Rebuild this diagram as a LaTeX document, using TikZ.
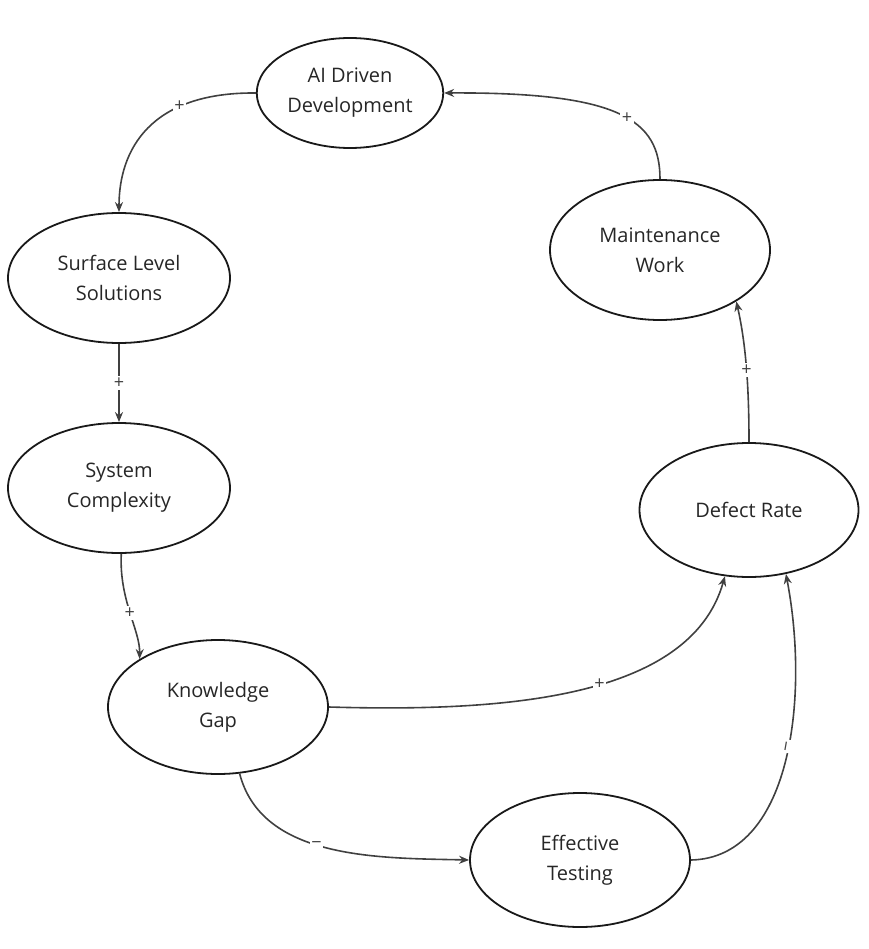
\documentclass[tikz,border=0pt]{standalone}
\usepackage{fontspec}
\setmainfont{Open Sans}
\usetikzlibrary{shapes.geometric,arrows.meta}
\begin{document}
\begin{tikzpicture}[x=1pt,y=-1pt,
 el/.style={ellipse,draw=black!90,line width=1.8pt,minimum width=#1,align=center,font=\fontsize{20}{30}\selectfont,text=black!85},
 ed/.style={draw=black!75,line width=1.6pt,-{Stealth[length=10pt,width=8pt]}},
 lb/.style={fill=white,inner sep=1.5pt,font=\fontsize{18}{18}\selectfont,text=black!75}]
\useasboundingbox (0,0) rectangle (868,949);
\node[el=186pt,minimum height=110pt] (ai) at (350,93) {AI Driven\\Development};
\node[el=220pt,minimum height=140pt] (mw) at (660,250) {Maintenance\\Work};
\node[el=222pt,minimum height=130pt] (sl) at (119,278) {Surface Level\\Solutions};
\node[el=222pt,minimum height=130pt] (sc) at (119,488) {System\\Complexity};
\node[el=219pt,minimum height=134pt] (dr) at (749,510) {Defect Rate};
\node[el=220pt,minimum height=134pt] (kg) at (218,707) {Knowledge\\Gap};
\node[el=220pt,minimum height=134pt] (et) at (580,860) {Effective\\Testing};
\draw[ed] (ai.west) .. controls (150,92) and (119,150) .. node[lb,pos=0.3]{+} (sl.north);
\draw[ed] (sl.south) -- node[lb]{+} (sc.north);
\draw[ed] (sc.-88) .. controls (119,600) and (140,630) .. node[lb,pos=0.5]{+} (kg.north west);
\draw[ed] (kg.east) .. controls (500,712) and (690,700) .. node[lb,pos=0.55]{+} (dr.-110);
\draw[ed] (kg.-72) .. controls (262,860) and (380,858) .. node[lb,pos=0.45]{−} (et.west);
\draw[ed] (et.east) .. controls (790,858) and (810,700) .. node[lb,pos=0.55,rotate=80]{−} (dr.-60);
\draw[ed] (dr.north) .. controls (749,380) and (745,340) .. node[lb,pos=0.45]{+} (mw.-34);
\draw[ed] (mw.north) .. controls (660,120) and (620,92) .. node[lb,pos=0.45]{+} (ai.east);
\end{tikzpicture}
\end{document}
